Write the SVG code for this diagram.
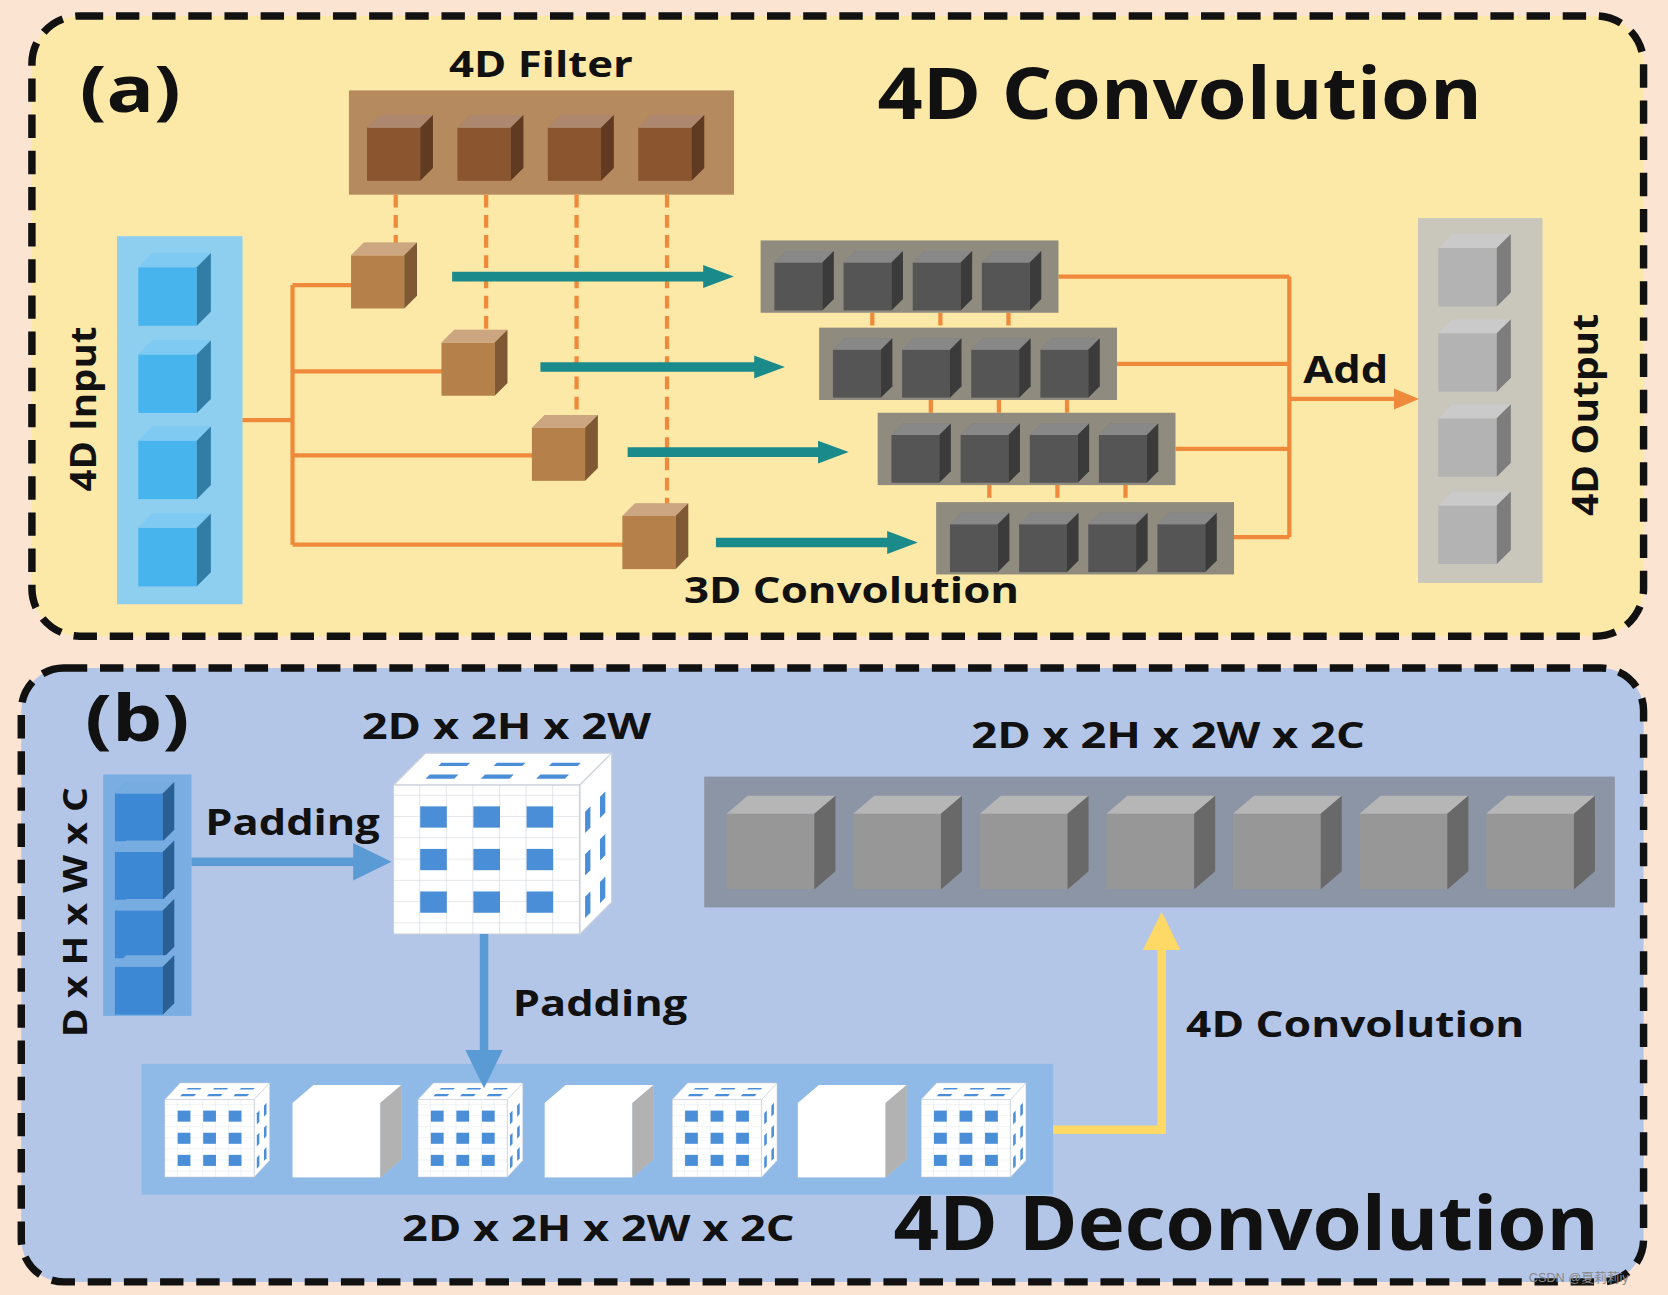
<svg xmlns="http://www.w3.org/2000/svg" xmlns:xlink="http://www.w3.org/1999/xlink" width="1668" height="1295" viewBox="0 0 1668 1295">
<style>
text{font-family:"Open Sans","Liberation Sans",sans-serif;font-weight:bold;fill:#111}
.panel{stroke:#111;stroke-width:7;stroke-dasharray:22 12}
.or{stroke:#ef8a3c;stroke-width:4;fill:none}
.ord{stroke:#ef8a3c;stroke-width:4;fill:none;stroke-dasharray:12 7}
.teal{stroke:#1b8a8a;stroke-width:9;fill:none}
</style>
<defs>
<g id="cube">
<rect x="0" y="12" width="50" height="50" fill="currentColor"/>
<polygon points="0,12 12,0 62,0 50,12" fill="currentColor"/>
<polygon points="0,12 12,0 62,0 50,12" fill="#fff" opacity="0.3"/>
<polygon points="50,12 62,0 62,50 50,62" fill="currentColor"/>
<polygon points="50,12 62,0 62,50 50,62" fill="#000" opacity="0.3"/>
</g>
<pattern id="cells" width="25" height="20" patternUnits="userSpaceOnUse"><rect width="25" height="20" fill="#fff"/><path d="M25 0V20H0" stroke="#c9cfd8" fill="none"/></pattern>
<g id="gcube">
<polygon points="0,30 30,0 205,0 175,30" fill="#fff" stroke="#c9cfd8"/>
<polygon points="175,30 205,0 205,140 175,170" fill="#fff" stroke="#c9cfd8"/>
<rect x="0" y="30" width="175" height="140" fill="url(#cells)" stroke="#c9cfd8"/>
<g fill="#4a8ed8">
<rect x="25" y="50" width="25" height="20"/><rect x="75" y="50" width="25" height="20"/><rect x="125" y="50" width="25" height="20"/>
<rect x="25" y="90" width="25" height="20"/><rect x="75" y="90" width="25" height="20"/><rect x="125" y="90" width="25" height="20"/>
<rect x="25" y="130" width="25" height="20"/><rect x="75" y="130" width="25" height="20"/><rect x="125" y="130" width="25" height="20"/>
<polygon points="30,24 57,24 61,20 34,20"/><polygon points="82,24 109,24 113,20 86,20"/><polygon points="134,24 161,24 165,20 138,20"/>
<polygon points="42,12 69,12 72,9 45,9"/><polygon points="94,12 121,12 124,9 97,9"/><polygon points="146,12 173,12 176,9 149,9"/>
<polygon points="180,55 185,50 185,70 180,75"/><polygon points="194,41 199,36 199,56 194,61"/>
<polygon points="180,95 185,90 185,110 180,115"/><polygon points="194,81 199,76 199,96 194,101"/>
<polygon points="180,135 185,130 185,150 180,155"/><polygon points="194,121 199,116 199,136 194,141"/>
</g>
</g>
<marker id="ta" markerWidth="4" markerHeight="4" refX="1" refY="2" orient="auto" markerUnits="strokeWidth"><path d="M0,0.8 L3.2,2 L0,3.2z" fill="#1b8a8a"/></marker>
<marker id="oa" markerWidth="6" markerHeight="6" refX="2" refY="3" orient="auto" markerUnits="strokeWidth"><path d="M0,0.5 L6,3 L0,5.5z" fill="#ef8a3c"/></marker>
<marker id="ba" markerWidth="5" markerHeight="5" refX="1" refY="2.5" orient="auto" markerUnits="strokeWidth"><path d="M0,0.3 L4.5,2.5 L0,4.7z" fill="#5b9bd5"/></marker>
<marker id="ya" markerWidth="5" markerHeight="5" refX="1" refY="2.5" orient="auto" markerUnits="strokeWidth"><path d="M0,0.3 L4.5,2.5 L0,4.7z" fill="#ffd966"/></marker>
</defs>
<rect width="1668" height="1295" fill="#fbe4d2"/>
<g transform="scale(1.0638)">
<g id="panel-a">
<rect class="panel" x="30" y="15" width="1515" height="583" rx="45" fill="#fde9a7"/>
<text x="75" y="105" font-size="60" textLength="95" lengthAdjust="spacingAndGlyphs">(a)</text>
<text x="825" y="112" font-size="68" textLength="568" lengthAdjust="spacingAndGlyphs">4D Convolution</text>
</g>
<g id="filter">
<text x="422" y="72" font-size="34" textLength="173" lengthAdjust="spacingAndGlyphs">4D Filter</text>
<rect x="328" y="85" width="362" height="98" fill="#b48a5e"/>
<use href="#cube" x="345" y="108" color="#8b5530"/>
<use href="#cube" x="430" y="108" color="#8b5530"/>
<use href="#cube" x="515" y="108" color="#8b5530"/>
<use href="#cube" x="600" y="108" color="#8b5530"/>
</g>
<g id="input">
<rect x="110" y="222" width="118" height="346" fill="#8ecff0"/>
<use href="#cube" transform="translate(130,238) scale(1.1)" color="#48b4ee"/>
<use href="#cube" transform="translate(130,320) scale(1.1)" color="#48b4ee"/>
<use href="#cube" transform="translate(130,401) scale(1.1)" color="#48b4ee"/>
<use href="#cube" transform="translate(130,483) scale(1.1)" color="#48b4ee"/>
<text transform="translate(90,462) rotate(-90)" font-size="34" textLength="155" lengthAdjust="spacingAndGlyphs">4D Input</text>
</g>
<g id="output">
<rect x="1333" y="205" width="117" height="343" fill="#c9c7bb"/>
<use href="#cube" transform="translate(1352,220) scale(1.1)" color="#b3b3b3"/>
<use href="#cube" transform="translate(1352,300) scale(1.1)" color="#b3b3b3"/>
<use href="#cube" transform="translate(1352,380) scale(1.1)" color="#b3b3b3"/>
<use href="#cube" transform="translate(1352,462) scale(1.1)" color="#b3b3b3"/>
<text transform="translate(1502,485) rotate(-90)" font-size="34" textLength="190" lengthAdjust="spacingAndGlyphs">4D Output</text>
</g>
<g id="connectors-a">
<path class="ord" d="M372 183V230M457 183V312M542 183V392M627 183V475"/>
<path class="or" d="M228 395H275M275 268V512M275 268H332M275 349H417M275 428H502M275 512H587"/>
<path class="or" d="M995 260H1212M1050 342H1212M1105 422H1212M1160 505H1212M1212 260V505"/>
<path class="or" d="M1212 375H1318" marker-end="url(#oa)"/>
<path class="teal" d="M425 260H670" marker-end="url(#ta)"/>
<path class="teal" d="M508 345H718" marker-end="url(#ta)"/>
<path class="teal" d="M590 425H778" marker-end="url(#ta)"/>
<path class="teal" d="M673 510H843" marker-end="url(#ta)"/>
<path class="ord" d="M820 294V310M884 294V310M948 294V310M875 376V390M939 376V390M1003 376V390M930 456V474M994 456V474M1058 456V474"/>
</g>
<g id="kernels">
<use href="#cube" x="330" y="228" color="#b5804a"/>
<use href="#cube" x="415" y="310" color="#b5804a"/>
<use href="#cube" x="500" y="390" color="#b5804a"/>
<use href="#cube" x="585" y="473" color="#b5804a"/>
</g>
<g id="conv3d">
<rect x="715" y="226" width="280" height="68" fill="#8f8b7e"/>
<use href="#cube" transform="translate(728,236) scale(0.9)" color="#555"/>
<use href="#cube" transform="translate(793,236) scale(0.9)" color="#555"/>
<use href="#cube" transform="translate(858,236) scale(0.9)" color="#555"/>
<use href="#cube" transform="translate(923,236) scale(0.9)" color="#555"/>
<rect x="770" y="308" width="280" height="68" fill="#8f8b7e"/>
<use href="#cube" transform="translate(783,318) scale(0.9)" color="#555"/>
<use href="#cube" transform="translate(848,318) scale(0.9)" color="#555"/>
<use href="#cube" transform="translate(913,318) scale(0.9)" color="#555"/>
<use href="#cube" transform="translate(978,318) scale(0.9)" color="#555"/>
<rect x="825" y="388" width="280" height="68" fill="#8f8b7e"/>
<use href="#cube" transform="translate(838,398) scale(0.9)" color="#555"/>
<use href="#cube" transform="translate(903,398) scale(0.9)" color="#555"/>
<use href="#cube" transform="translate(968,398) scale(0.9)" color="#555"/>
<use href="#cube" transform="translate(1033,398) scale(0.9)" color="#555"/>
<rect x="880" y="472" width="280" height="68" fill="#8f8b7e"/>
<use href="#cube" transform="translate(893,482) scale(0.9)" color="#555"/>
<use href="#cube" transform="translate(958,482) scale(0.9)" color="#555"/>
<use href="#cube" transform="translate(1023,482) scale(0.9)" color="#555"/>
<use href="#cube" transform="translate(1088,482) scale(0.9)" color="#555"/>
<text x="1225" y="360" font-size="36" textLength="80" lengthAdjust="spacingAndGlyphs">Add</text>
<text x="643" y="567" font-size="34" textLength="315" lengthAdjust="spacingAndGlyphs">3D Convolution</text>
</g>
<g id="panel-b">
<rect class="panel" x="20" y="628" width="1525" height="577" rx="40" fill="#b4c6e8"/>
<text x="80" y="697" font-size="60" textLength="98" lengthAdjust="spacingAndGlyphs">(b)</text>
<text x="840" y="1175" font-size="70" textLength="663" lengthAdjust="spacingAndGlyphs">4D Deconvolution</text>
</g>
<g id="small-input">
<rect x="97" y="728" width="83" height="227" fill="#7aaee2"/>
<use href="#cube" transform="translate(108,735) scale(0.9)" color="#3d88d4"/>
<use href="#cube" transform="translate(108,790) scale(0.9)" color="#3d88d4"/>
<use href="#cube" transform="translate(108,845) scale(0.9)" color="#3d88d4"/>
<use href="#cube" transform="translate(108,898) scale(0.9)" color="#3d88d4"/>
<text transform="translate(82,975) rotate(-90)" font-size="32" textLength="235" lengthAdjust="spacingAndGlyphs">D x H x W x C</text>
</g>
<g id="padded-cube">
<text x="340" y="695" font-size="34" textLength="272" lengthAdjust="spacingAndGlyphs">2D x 2H x 2W</text>
<use href="#gcube" x="370" y="708"/>
</g>
<g id="padded-seq">
<rect x="133" y="1000" width="857" height="123" fill="#8fb9e6"/>
<use href="#gcube" transform="translate(155,1018) scale(0.48,0.52)"/>
<use href="#cube" transform="translate(275,1020) scale(1.65,1.4)" color="#fff"/>
<use href="#gcube" transform="translate(393,1018) scale(0.48,0.52)"/>
<use href="#cube" transform="translate(512,1020) scale(1.65,1.4)" color="#fff"/>
<use href="#gcube" transform="translate(632,1018) scale(0.48,0.52)"/>
<use href="#cube" transform="translate(750,1020) scale(1.65,1.4)" color="#fff"/>
<use href="#gcube" transform="translate(866,1018) scale(0.48,0.52)"/>
<text x="378" y="1167" font-size="34" textLength="369" lengthAdjust="spacingAndGlyphs">2D x 2H x 2W x 2C</text>
</g>
<g id="output-b">
<rect x="662" y="730" width="856" height="123" fill="#8c95a6"/>
<use href="#cube" transform="translate(683,748) scale(1.65,1.42)" color="#979797"/>
<use href="#cube" transform="translate(802,748) scale(1.65,1.42)" color="#979797"/>
<use href="#cube" transform="translate(921,748) scale(1.65,1.42)" color="#979797"/>
<use href="#cube" transform="translate(1040,748) scale(1.65,1.42)" color="#979797"/>
<use href="#cube" transform="translate(1159,748) scale(1.65,1.42)" color="#979797"/>
<use href="#cube" transform="translate(1278,748) scale(1.65,1.42)" color="#979797"/>
<use href="#cube" transform="translate(1397,748) scale(1.65,1.42)" color="#979797"/>
<text x="913" y="703" font-size="34" textLength="370" lengthAdjust="spacingAndGlyphs">2D x 2H x 2W x 2C</text>
</g>
<g id="connectors-b">
<path d="M180 810H340" stroke="#5b9bd5" stroke-width="8" fill="none" marker-end="url(#ba)"/>
<path d="M455 878V995" stroke="#5b9bd5" stroke-width="8" fill="none" marker-end="url(#ba)"/>
<path d="M990 1062H1092V885" stroke="#ffd966" stroke-width="8" fill="none" marker-end="url(#ya)"/>
<text x="193" y="785" font-size="34" textLength="164" lengthAdjust="spacingAndGlyphs">Padding</text>
<text x="482" y="955" font-size="34" textLength="164" lengthAdjust="spacingAndGlyphs">Padding</text>
<text x="1115" y="975" font-size="34" textLength="318" lengthAdjust="spacingAndGlyphs">4D Convolution</text>
</g>
<text x="1437" y="1205" font-size="12" style="font-weight:normal;fill:#888;font-family:'Liberation Sans','Noto Sans CJK SC',sans-serif">CSDN @夏莉莉iy</text>
</g>
</svg>
